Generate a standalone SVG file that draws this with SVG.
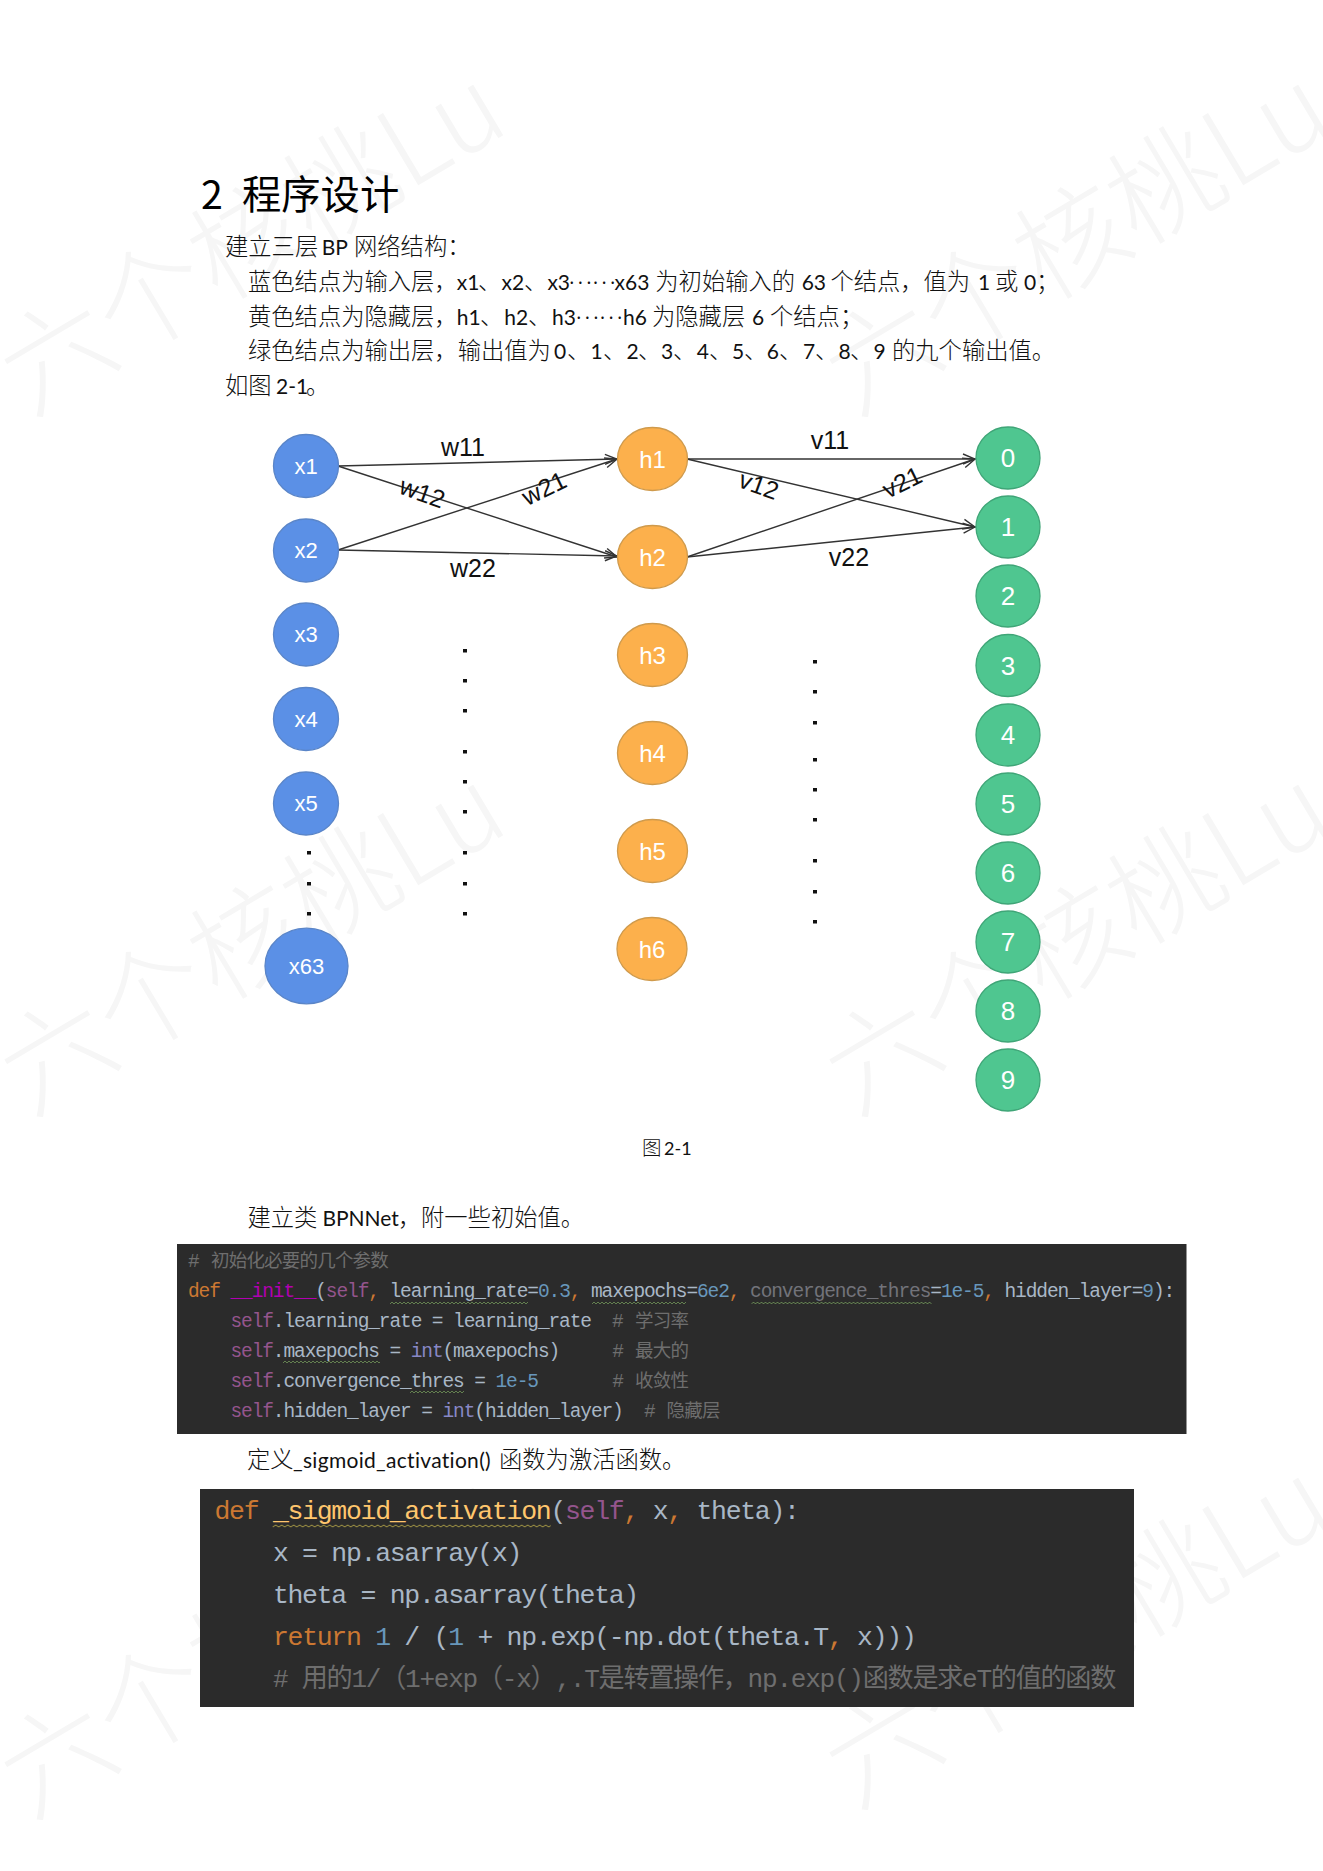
<svg xmlns="http://www.w3.org/2000/svg" width="1323" height="1871" viewBox="0 0 1323 1871">
<style>
text{font-family:"Noto Sans CJK SC",sans-serif}
.wm{font-size:110px;fill:#f6f6f6;font-weight:300}
.h{font-size:39.300px;fill:#000}
.b{font-size:23.300px;fill:#111;font-weight:300}
.l{font-family:Lato,sans-serif;font-size:21px;font-weight:400}
.el{font-size:23px}
.cap{font-size:19.500px;fill:#111;font-weight:300}
.n ellipse{stroke-width:1.3}
.bl ellipse{fill:#5b90e6;stroke:#5a85c8}
.or ellipse{fill:#fcb04c;stroke:#cf9a4c}
.gr ellipse{fill:#4fc690;stroke:#3fa577}
.n text{font-family:"Liberation Sans",sans-serif;fill:#fff;font-size:22px;text-anchor:middle;dominant-baseline:central}
.or text{font-size:24px}
.gr text{font-size:26px}
.e{stroke:#333;stroke-width:1.4;fill:none;marker-end:url(#arr)}
.lb{font-family:"Liberation Sans",sans-serif;font-size:25px;fill:#111;text-anchor:middle;dominant-baseline:central}
.dot{fill:#111;width:4px;height:3.500px}
.cd{fill:#2b2b2b}
.m{font-family:"Liberation Mono","Noto Sans CJK SC",monospace;white-space:pre;fill:#a9b7c6}
.m1{font-size:19.500px;letter-spacing:-1.100px}
.m2{font-size:26.500px;letter-spacing:-1.300px}
.k{fill:#cc7832}.s{fill:#94558d}.c{fill:#6e6e6e}.g{fill:#72737a}.d{fill:#6897bb}.f{fill:#b200b2}.i{fill:#8888c6}.y{fill:#ffc66d}
.cj{font-size:18.500px;letter-spacing:-.800px}
.sq1{fill:url(#wavyG);height:4px}
.sq2{fill:url(#wavyY);height:4px}
</style>
<defs>
<marker id="arr" markerWidth="14" markerHeight="12" refX="13" refY="6" orient="auto" markerUnits="userSpaceOnUse"><path d="M1 1 L13 6 L1 11" fill="none" stroke="#333" stroke-width="1.4"/></marker>
<pattern id="wavyG" patternUnits="userSpaceOnUse" width="4" height="4"><path d="M0 3 L2 1 L4 3" fill="none" stroke="#6a8a55" stroke-width=".9"/></pattern>
<pattern id="wavyY" patternUnits="userSpaceOnUse" width="6" height="4"><path d="M0 3 L3 1 L6 3" fill="none" stroke="#a89a45" stroke-width="1"/></pattern>
</defs>
<rect width="1323" height="1871" fill="#fff"/>
<g id="watermarks">
<text class="wm" transform="translate(30 416) rotate(-30.7)">六个核桃Lu</text>
<text class="wm" transform="translate(855 416) rotate(-30.7)">六个核桃Lu</text>
<text class="wm" transform="translate(30 1116) rotate(-30.7)">六个核桃Lu</text>
<text class="wm" transform="translate(855 1116) rotate(-30.7)">六个核桃Lu</text>
<text class="wm" transform="translate(30 1819) rotate(-30.7)">六个核桃Lu</text>
<text class="wm" transform="translate(855 1809) rotate(-30.7)">六个核桃Lu</text>
</g>
<g id="prose">
<text class="h" x="201" y="209">2<tspan x="242">程序设计</tspan></text>
<text class="b" x="225" y="255">建立三层<tspan class="l" x="321.800">BP</tspan><tspan x="354">网络结构：</tspan></text>
<text class="b" x="248" y="290">蓝色结点为输入层，<tspan class="l" x="456.700">x1</tspan><tspan x="478">、</tspan><tspan class="l" x="501.500">x2</tspan><tspan x="524">、</tspan><tspan class="l" x="547.400">x3</tspan><tspan class="el" x="568" dy="-6">……</tspan><tspan class="l" x="614.600" dy="6">x63</tspan><tspan x="655.300">为初始输入的</tspan><tspan class="l" x="801.700">63</tspan><tspan x="830.400">个结点，值为</tspan><tspan class="l" x="978">1</tspan><tspan x="995">或</tspan><tspan class="l" x="1024">0</tspan><tspan x="1036">；</tspan></text>
<text class="b" x="248" y="324.500">黄色结点为隐藏层，<tspan class="l" x="456.700">h1</tspan><tspan x="480">、</tspan><tspan class="l" x="504.300">h2</tspan><tspan x="528">、</tspan><tspan class="l" x="552">h3</tspan><tspan class="el" x="575" dy="-6">……</tspan><tspan class="l" x="623" dy="6">h6</tspan><tspan x="652">为隐藏层</tspan><tspan class="l" x="752">6</tspan><tspan x="770">个结点；</tspan></text>
<text class="b" x="248" y="359">绿色结点为输出层，输出值为<tspan class="l" x="554">0</tspan><tspan x="567">、</tspan><tspan class="l" x="590.500">1</tspan><tspan x="603">、</tspan><tspan class="l" x="626.600">2</tspan><tspan x="638">、</tspan><tspan class="l" x="661">3</tspan><tspan x="673">、</tspan><tspan class="l" x="696.700">4</tspan><tspan x="709">、</tspan><tspan class="l" x="732">5</tspan><tspan x="744">、</tspan><tspan class="l" x="766.700">6</tspan><tspan x="779">、</tspan><tspan class="l" x="803">7</tspan><tspan x="815">、</tspan><tspan class="l" x="838.500">8</tspan><tspan x="850">、</tspan><tspan class="l" x="873.500">9</tspan><tspan x="892">的九个输出值。</tspan></text>
<text class="b" x="225" y="393.500">如图<tspan class="l" x="276">2-1</tspan><tspan x="306">。</tspan></text>
<text class="cap" x="642" y="1155">图<tspan class="l" style="font-size:18px" x="664">2-1</tspan></text>
<text class="b" x="247.500" y="1226">建立类<tspan class="l" x="322.400">BPNNet</tspan><tspan x="398">，</tspan><tspan x="421">附一些初始值。</tspan></text>
<text class="b" x="247" y="1468">定义<tspan class="l" x="293" style="letter-spacing:.3px">_sigmoid_activation()</tspan><tspan x="499">函数为激活函数。</tspan></text>
</g>
<g id="connectors">
<line class="e" x1="338" y1="466" x2="617" y2="459"/>
<line class="e" x1="338" y1="466" x2="617" y2="557"/>
<line class="e" x1="338" y1="550" x2="617" y2="459"/>
<line class="e" x1="338" y1="550" x2="617" y2="556"/>
<line class="e" x1="687" y1="459" x2="975" y2="459"/>
<line class="e" x1="687" y1="459" x2="975" y2="527"/>
<line class="e" x1="687" y1="557" x2="975" y2="459"/>
<line class="e" x1="687" y1="557" x2="975" y2="527"/>
</g>
<g id="edge-labels">
<text class="lb" x="463" y="447">w11</text>
<text class="lb" transform="translate(422.500 492.500) rotate(20)">w12</text>
<text class="lb" transform="translate(544 488) rotate(-26)">w21</text>
<text class="lb" x="473" y="568">w22</text>
<text class="lb" x="830" y="440">v11</text>
<text class="lb" transform="translate(759 485) rotate(20)">v12</text>
<text class="lb" transform="translate(902 482) rotate(-26)">v21</text>
<text class="lb" x="849" y="557">v22</text>
</g>
<g id="dots">
<rect class="dot" x="307" y="851"/><rect class="dot" x="307" y="882"/><rect class="dot" x="307" y="912"/>
<rect class="dot" x="463" y="649"/><rect class="dot" x="463" y="679"/><rect class="dot" x="463" y="709"/><rect class="dot" x="463" y="750"/><rect class="dot" x="463" y="780"/><rect class="dot" x="463" y="810"/><rect class="dot" x="463" y="851"/><rect class="dot" x="463" y="882"/><rect class="dot" x="463" y="912"/>
<rect class="dot" x="813" y="660"/><rect class="dot" x="813" y="690"/><rect class="dot" x="813" y="721"/><rect class="dot" x="813" y="758"/><rect class="dot" x="813" y="788"/><rect class="dot" x="813" y="818"/><rect class="dot" x="813" y="859"/><rect class="dot" x="813" y="890"/><rect class="dot" x="813" y="920"/>
</g>
<g id="x1" class="n bl"><ellipse cx="306" cy="466" rx="32.500" ry="31.500"/><text x="306" y="466">x1</text></g>
<g id="x2" class="n bl"><ellipse cx="306" cy="550.500" rx="32.500" ry="31.500"/><text x="306" y="550.500">x2</text></g>
<g id="x3" class="n bl"><ellipse cx="306" cy="634.500" rx="32.500" ry="31.500"/><text x="306" y="634.500">x3</text></g>
<g id="x4" class="n bl"><ellipse cx="306" cy="719" rx="32.500" ry="31.500"/><text x="306" y="719">x4</text></g>
<g id="x5" class="n bl"><ellipse cx="306" cy="803.500" rx="32.500" ry="31.500"/><text x="306" y="803.500">x5</text></g>
<g id="x63" class="n bl"><ellipse cx="306.500" cy="966" rx="41.500" ry="37.800"/><text x="306.500" y="966">x63</text></g>
<g id="h1" class="n or"><ellipse cx="652.500" cy="459" rx="35" ry="31.500"/><text x="652.500" y="459">h1</text></g>
<g id="h2" class="n or"><ellipse cx="652.500" cy="557" rx="35" ry="31.500"/><text x="652.500" y="557">h2</text></g>
<g id="h3" class="n or"><ellipse cx="652.500" cy="655" rx="35" ry="31.500"/><text x="652.500" y="655">h3</text></g>
<g id="h4" class="n or"><ellipse cx="652.500" cy="753" rx="35" ry="31.500"/><text x="652.500" y="753">h4</text></g>
<g id="h5" class="n or"><ellipse cx="652.500" cy="851" rx="35" ry="31.500"/><text x="652.500" y="851">h5</text></g>
<g id="h6" class="n or"><ellipse cx="652" cy="949" rx="35" ry="31.500"/><text x="652" y="949">h6</text></g>
<g id="o0" class="n gr"><ellipse cx="1008" cy="458" rx="32" ry="31"/><text x="1008" y="458">0</text></g>
<g id="o1" class="n gr"><ellipse cx="1008" cy="527" rx="32" ry="31"/><text x="1008" y="527">1</text></g>
<g id="o2" class="n gr"><ellipse cx="1008" cy="596" rx="32" ry="31"/><text x="1008" y="596">2</text></g>
<g id="o3" class="n gr"><ellipse cx="1008" cy="665.500" rx="32" ry="31"/><text x="1008" y="665.500">3</text></g>
<g id="o4" class="n gr"><ellipse cx="1008" cy="735" rx="32" ry="31"/><text x="1008" y="735">4</text></g>
<g id="o5" class="n gr"><ellipse cx="1008" cy="804" rx="32" ry="31"/><text x="1008" y="804">5</text></g>
<g id="o6" class="n gr"><ellipse cx="1008" cy="873" rx="32" ry="31"/><text x="1008" y="873">6</text></g>
<g id="o7" class="n gr"><ellipse cx="1008" cy="942" rx="32" ry="31"/><text x="1008" y="942">7</text></g>
<g id="o8" class="n gr"><ellipse cx="1008" cy="1011" rx="32" ry="31"/><text x="1008" y="1011">8</text></g>
<g id="o9" class="n gr"><ellipse cx="1008" cy="1080" rx="32" ry="31"/><text x="1008" y="1080">9</text></g>
<g id="code-init">
<rect class="cd" x="177" y="1244" width="1009.500" height="190"/>
<text class="m m1" x="188" y="1267"><tspan class="c"># </tspan><tspan class="c cj" x="211">初始化必要的几个参数</tspan></text>
<text class="m m1" x="188" y="1297"><tspan class="k">def </tspan><tspan class="f">__init__</tspan>(<tspan class="s">self</tspan><tspan class="k">, </tspan>learning_rate=<tspan class="d">0.3</tspan><tspan class="k">, </tspan>maxepochs=<tspan class="d">6e2</tspan><tspan class="k">, </tspan><tspan class="g">convergence_thres</tspan>=<tspan class="d">1e-5</tspan><tspan class="k">, </tspan>hidden_layer=<tspan class="d">9</tspan>):</text>
<text class="m m1" x="188" y="1327">    <tspan class="s">self</tspan>.learning_rate = learning_rate  <tspan class="c"># </tspan><tspan class="c cj" x="635">学习率</tspan></text>
<text class="m m1" x="188" y="1357">    <tspan class="s">self</tspan>.maxepochs = <tspan class="i">int</tspan>(maxepochs)     <tspan class="c"># </tspan><tspan class="c cj" x="635">最大的</tspan></text>
<text class="m m1" x="188" y="1387">    <tspan class="s">self</tspan>.convergence_thres = <tspan class="d">1e-5</tspan>       <tspan class="c"># </tspan><tspan class="c cj" x="635">收敛性</tspan></text>
<text class="m m1" x="188" y="1417">    <tspan class="s">self</tspan>.hidden_layer = <tspan class="i">int</tspan>(hidden_layer)  <tspan class="c"># </tspan><tspan class="c cj" x="666.500">隐藏层</tspan></text>
<rect class="sq1" transform="translate(390 1301)" width="138"/>
<rect class="sq1" transform="translate(592 1301)" width="94"/>
<rect class="sq1" transform="translate(751.500 1301)" width="180"/>
<rect class="sq1" transform="translate(283 1360)" width="97"/>
<rect class="sq1" transform="translate(410 1390)" width="54"/>
</g>
<g id="code-sigmoid">
<rect class="cd" x="200" y="1489" width="934" height="218"/>
<text class="m m2" x="214.500" y="1519"><tspan class="k">def </tspan><tspan class="y">_sigmoid_activation</tspan>(<tspan class="s">self</tspan><tspan class="k">, </tspan>x<tspan class="k">, </tspan>theta):</text>
<text class="m m2" x="214.500" y="1561">    x = np.asarray(x)</text>
<text class="m m2" x="214.500" y="1603">    theta = np.asarray(theta)</text>
<text class="m m2" x="214.500" y="1645">    <tspan class="k">return </tspan><tspan class="d">1</tspan> / (<tspan class="d">1</tspan> + np.exp(-np.dot(theta.T<tspan class="k">, </tspan>x)))</text>
<text class="m m2 c" x="273" y="1687" textLength="842" lengthAdjust="spacingAndGlyphs"># 用的1/（1+exp（-x）,.T是转置操作，np.exp()函数是求eT的值的函数</text>
<rect class="sq2" transform="translate(272.700 1524)" width="278"/>
</g>
</svg>
